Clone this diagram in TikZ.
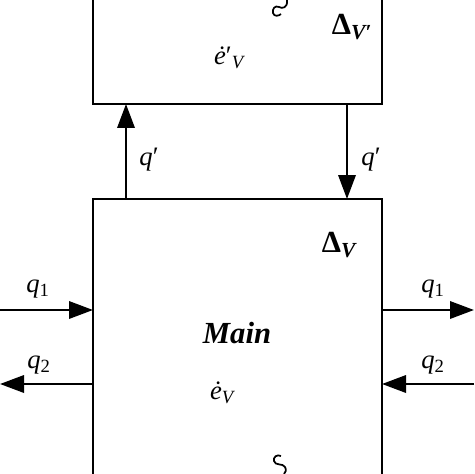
\documentclass[tikz,border=0pt]{standalone}
\usepackage{fontspec}
\setmainfont{Liberation Serif}
\usetikzlibrary{arrows.meta}
\newcommand{\LabelSize}{\fontsize{20}{22}\selectfont}
\newcommand{\BigSize}{\fontsize{23}{25}\selectfont}

\begin{document}
\begin{tikzpicture}[
	% px units, y pointing down
	x=0.75pt, y=-0.75pt,
	box/.style={rectangle, draw, line width=1.5pt, outer sep=0pt, minimum width=216.75pt},
	flow/.style={-{Triangle[length=18pt,width=13pt]}, line width=1.8pt},
	lbl/.style={font=\LabelSize, inner sep=0pt}
	]
	\useasboundingbox (0,0) rectangle (474,474);
	\clip (0,0) rectangle (474,474);

	\draw (237.5,37) node[box,minimum height=100.5pt] (Upper) {};
	\draw (237.5,349.5) node[box,minimum height=225.75pt] (Main) {};

	% vertical exchange
	\coordinate (UpBase) at (126,199);
	\coordinate (DownBase) at (347,104);
	\draw[flow] (UpBase) -- (UpBase |- Upper.south);
	\draw[flow] (DownBase) -- (DownBase |- Main.north);
	\draw (149,160) node[lbl] (qUp) {\textit{q}′};
	\draw (371,160) node[lbl] (qDown) {\textit{q}′};

	% side flows
	\coordinate (LeftIn) at (0,310);
	\coordinate (LeftOut) at (0,384);
	\coordinate (RightOut) at (474,310);
	\coordinate (RightIn) at (474,384);
	\draw[flow] (LeftIn) -- (LeftIn -| Main.west);
	\draw[flow] (LeftOut -| Main.west) -- (LeftOut);
	\draw[flow] (RightOut -| Main.east) -- (RightOut);
	\draw[flow] (RightIn) -- (RightIn -| Main.east);
	\draw (38,289) node[lbl] (qLeftIn) {\textit{q}\textsubscript{1}};
	\draw (39,365) node[lbl] (qLeftOut) {\textit{q}\textsubscript{2}};
	\draw (433,289) node[lbl] (qRightOut) {\textit{q}\textsubscript{1}};
	\draw (433,365) node[lbl] (qRightIn) {\textit{q}\textsubscript{2}};

	% box texts
	\draw (352,27) node[font=\BigSize\bfseries] (DeltaUpper) {Δ\textsubscript{\itshape V′}};
	\draw (339,245) node[font=\BigSize\bfseries] (DeltaMain) {Δ\textsubscript{\itshape V}};
	\draw (229,58) node[lbl] (eUpper) {\textit{ė}′\textsubscript{\itshape V}};
	\draw (237,333) node[font=\BigSize\bfseries\itshape] (MainName) {Main};
	\draw (222,393) node[lbl] (eMain) {\textit{ė}\textsubscript{\itshape V}};

	% squiggles
	\draw[line width=1.3pt] (287,0) .. controls (288,8) and (282,9) .. (279,7) .. controls (275,5) and (272,9) .. (273,13) .. controls (274,17) and (279,16) .. (281,14);
	\draw[line width=1.3pt] (281,456) .. controls (277,454) and (273,457) .. (274,461) .. controls (275,466) and (283,463) .. (285,467) .. controls (287,470) and (285,473) .. (284,474);
\end{tikzpicture}
\end{document}
